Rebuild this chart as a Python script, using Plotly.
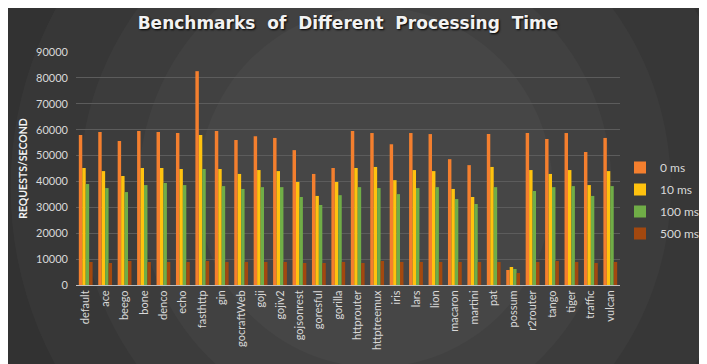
import plotly.graph_objects as go

frameworks = ["default", "ace", "beego", "bone", "denco", "echo", "fasthttp", "gin",
              "gocraftWeb", "goji", "gojiv2", "gojsonrest", "goresful", "gorilla",
              "httprouter", "httptreemux", "iris", "lars", "lion", "macaron", "martini",
              "pat", "possum", "r2router", "tango", "tiger", "traffic", "vulcan"]

ms0 = [57900, 59100, 55600, 59500, 59100, 58700, 82600, 59500,
       56000, 57500, 56800, 52100, 42900, 45200,
       59500, 58700, 54400, 58700, 58300, 48600, 46300,
       58300, 5800, 58700, 56400, 58700, 51350, 56800]
ms10 = [45200, 44000, 42100, 45200, 45200, 44800, 57900, 44800,
        42900, 44400, 44000, 39800, 34400, 39800,
        45200, 45600, 40500, 44400, 44000, 37100, 34000,
        45600, 6950, 44400, 42900, 44400, 38600, 44000]
ms100 = [39000, 37450, 35900, 38600, 39400, 38600, 44800, 38200,
         37100, 37800, 37800, 34000, 30900, 34700,
         37800, 37450, 35100, 37450, 37800, 33200, 31300,
         37800, 6200, 36300, 37800, 38200, 34400, 38200]
ms500 = [8880, 8500, 9270, 8900, 8900, 8900, 9270, 8900,
         8900, 8900, 8900, 8500, 8500, 8900,
         8500, 9270, 8900, 8900, 8900, 8900, 8900,
         8900, 4630, 8900, 9270, 8900, 8500, 8900]

series_names = ["0 ms", "10 ms", "100 ms", "500 ms"]
series_colors = ["#F47F2E", "#FFC20E", "#70AD47", "#A3480F"]

fig = go.Figure()
for name, vals, col in zip(series_names, [ms0, ms10, ms100, ms500], series_colors):
    fig.add_trace(go.Bar(x=frameworks, y=vals, name=name, legendgroup=name,
                         marker=dict(color=col, line=dict(width=0))))

# radial-ish background glow
shapes = []
cx, cy = 0.55, 0.42
for r in [520, 440, 370, 300, 240, 180]:
    rx = r / 552
    ry = r / 233
    shapes.append(dict(type="circle", xref="paper", yref="paper",
                       x0=cx - rx, x1=cx + rx, y0=cy - ry, y1=cy + ry,
                       fillcolor="rgba(255,255,255,0.028)", line=dict(width=0),
                       layer="below"))

fig.update_layout(
    width=707, height=364,
    margin=dict(l=68, r=87, t=44, b=87),
    paper_bgcolor="#282828",
    plot_bgcolor="rgba(0,0,0,0)",
    barmode="group",
    bargap=0.29,
    bargroupgap=0,
    font=dict(family="Lato, 'Open Sans', sans-serif", color="#d9d9d9", size=11),
    title=dict(text="<b>Benchmarks  of  Different  Processing  Time</b>",
               x=0.5, xref="paper", xanchor="center",
               y=1 - 15 / 364, yref="container", yanchor="middle",
               font=dict(family="'DejaVu Sans', sans-serif", size=17, color="#f2f2f2",
                         shadow="1px 1px 2px #000")),
    xaxis=dict(tickangle=-90, showgrid=False, showline=True, linecolor="#bfbfbf",
               linewidth=1, ticks="", tickfont=dict(size=11, color="#d9d9d9"),
               automargin=False),
    yaxis=dict(range=[0, 90000], dtick=10000, showgrid=True, gridcolor="#5c5c5c",
               gridwidth=1, zeroline=False, tickformat="d", ticks="",
               ticklabelstandoff=7,
               tickfont=dict(size=11, color="#d9d9d9"), automargin=False,
               title=dict(text="<b>REQUESTS/SECOND</b>", standoff=6,
                          font=dict(size=10.5, color="#f2f2f2"))),
    legend=dict(xref="container", yref="container", x=612 / 707, y=1 - 145 / 364,
                xanchor="left", yanchor="top",
                bgcolor="rgba(0,0,0,0)", font=dict(size=12, color="#d9d9d9"),
                itemwidth=30, tracegroupgap=3),
    shapes=shapes,
)

fig.write_html("out.html")
